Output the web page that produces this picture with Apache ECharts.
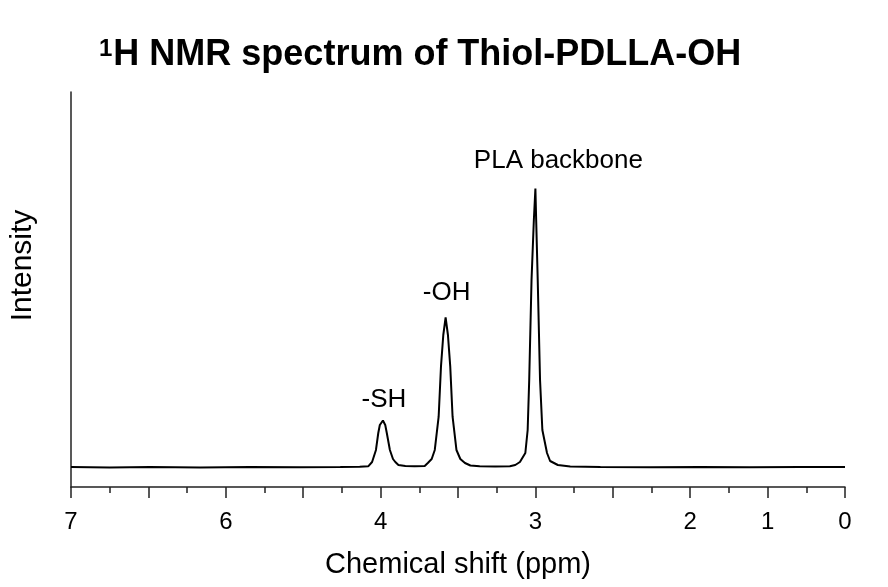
<!DOCTYPE html>
<html>
<head>
<meta charset="utf-8">
<title>1H NMR spectrum of Thiol-PDLLA-OH</title>
<script src="https://cdn.jsdelivr.net/npm/echarts@6/dist/echarts.min.js"></script>
<style>
  html, body { margin: 0; padding: 0; background: #fff; }
  #main { width: 888px; height: 587px; }
</style>
</head>
<body>
<div id="main"></div>
<script>
// tick labels as printed on the original axis (one per major tick, '' = unlabeled)
var xTickLabels = ['7', '', '6', '', '4', '', '3', '', '2', '1', '0'];

// spectrum trace, x in major-tick units along the axis, y in arbitrary intensity
var shiftPos = [0, 0.50, 1.02, 1.67, 2.31, 2.96, 3.48, 3.73, 3.84, 3.89, 3.94, 3.97, 3.99, 4.03, 4.06,
  4.08, 4.12, 4.16, 4.19, 4.23, 4.32, 4.44, 4.57, 4.61, 4.66, 4.70, 4.75, 4.78, 4.81, 4.84, 4.87,
  4.90, 4.93, 4.98, 5.03, 5.09, 5.16, 5.28, 5.48, 5.67, 5.74, 5.80, 5.87, 5.90, 5.92, 5.95, 5.98,
  6.00, 6.01, 6.03, 6.06, 6.09, 6.15, 6.19, 6.29, 6.45, 6.84, 7.48, 8.13, 8.77, 9.42, 10];
var intensity = [5.06, 4.94, 5.06, 4.94, 5.06, 4.99, 5.06, 5.11, 5.24, 6.33, 9.37, 13.67, 15.70, 16.84, 15.70,
  13.67, 9.37, 7.09, 6.33, 5.57, 5.32, 5.24, 5.32, 6.08, 7.09, 9.37, 17.80, 30.46, 38.48, 42.91, 38.48,
  30.46, 17.80, 9.37, 7.09, 6.08, 5.44, 5.27, 5.19, 5.27, 5.57, 6.33, 8.61, 14.43, 27.09, 52.41, 67.59,
  75.57, 67.59, 52.41, 27.09, 14.43, 8.61, 6.58, 5.57, 5.19, 5.06, 4.99, 5.06, 4.99, 5.06, 5.06];

// peak annotations
var peakLabels = ['-SH', '-OH', 'PLA backbone'];
var peakPos = [4.03, 4.84, 6.00];
var peakHeight = [16.84, 42.91, 75.57];

var FONT = '"Liberation Sans", Arial, Helvetica, sans-serif';

var lineData = [];
for (var i = 0; i < shiftPos.length; i++) {
  lineData.push([shiftPos[i], intensity[i]]);
}

var labelOffsets = [[1, -21], [1, -25], [23, -28]];
var markData = peakLabels.map(function (name, k) {
  return {
    name: name,
    coord: [peakPos[k], peakHeight[k]],
    label: { offset: labelOffsets[k] }
  };
});

var myChart = echarts.init(document.getElementById('main'));
var option = {
  animation: false,
  backgroundColor: '#fff',
  title: {
    text: '{sup|1}{main|H NMR spectrum of Thiol-PDLLA-OH}',
    left: 94,
    top: 32,
    textStyle: {
      rich: {
        sup: { fontFamily: FONT, fontWeight: 'bold', fontSize: 24, color: '#000', verticalAlign: 'top', padding: [0, 1, 0, 0] },
        main: { fontFamily: FONT, fontWeight: 'bold', fontSize: 36, color: '#000' }
      }
    }
  },
  grid: { left: 71, right: 43, top: 92, bottom: 100 },
  xAxis: {
    type: 'value',
    min: 0,
    max: 10,
    interval: 1,
    name: 'Chemical shift (ppm)',
    nameLocation: 'middle',
    nameGap: 63,
    nameTextStyle: { fontFamily: FONT, fontSize: 29, color: '#000' },
    axisLine: { show: true, onZero: false, lineStyle: { color: '#222', width: 1.5 } },
    axisTick: { show: true, inside: false, length: 11, lineStyle: { color: '#222', width: 1.5 } },
    minorTick: { show: true, splitNumber: 2, length: 6, lineStyle: { color: '#222', width: 1.5 } },
    splitLine: { show: false },
    axisLabel: {
      margin: 23,
      fontFamily: FONT,
      fontSize: 24,
      color: '#000',
      formatter: function (v) { return xTickLabels[Math.round(v)]; }
    }
  },
  yAxis: {
    type: 'value',
    min: 0,
    max: 100,
    name: 'Intensity',
    nameLocation: 'middle',
    nameRotate: 90,
    nameGap: 33,
    nameTextStyle: { fontFamily: FONT, fontSize: 30, color: '#000', padding: [0, 0, 0, 48] },
    axisLine: { show: true, lineStyle: { color: '#222', width: 1.5 } },
    axisTick: { show: false },
    axisLabel: { show: false },
    splitLine: { show: false }
  },
  series: [{
    type: 'line',
    data: lineData,
    showSymbol: false,
    smooth: false,
    lineStyle: { color: '#000', width: 2 },
    markPoint: {
      symbol: 'circle',
      symbolSize: 0,
      label: {
        show: true,
        position: 'inside',
        fontFamily: FONT,
        fontSize: 26,
        color: '#000',
        formatter: '{b}'
      },
      data: markData
    }
  }]
};
myChart.setOption(option);
</script>
</body>
</html>
